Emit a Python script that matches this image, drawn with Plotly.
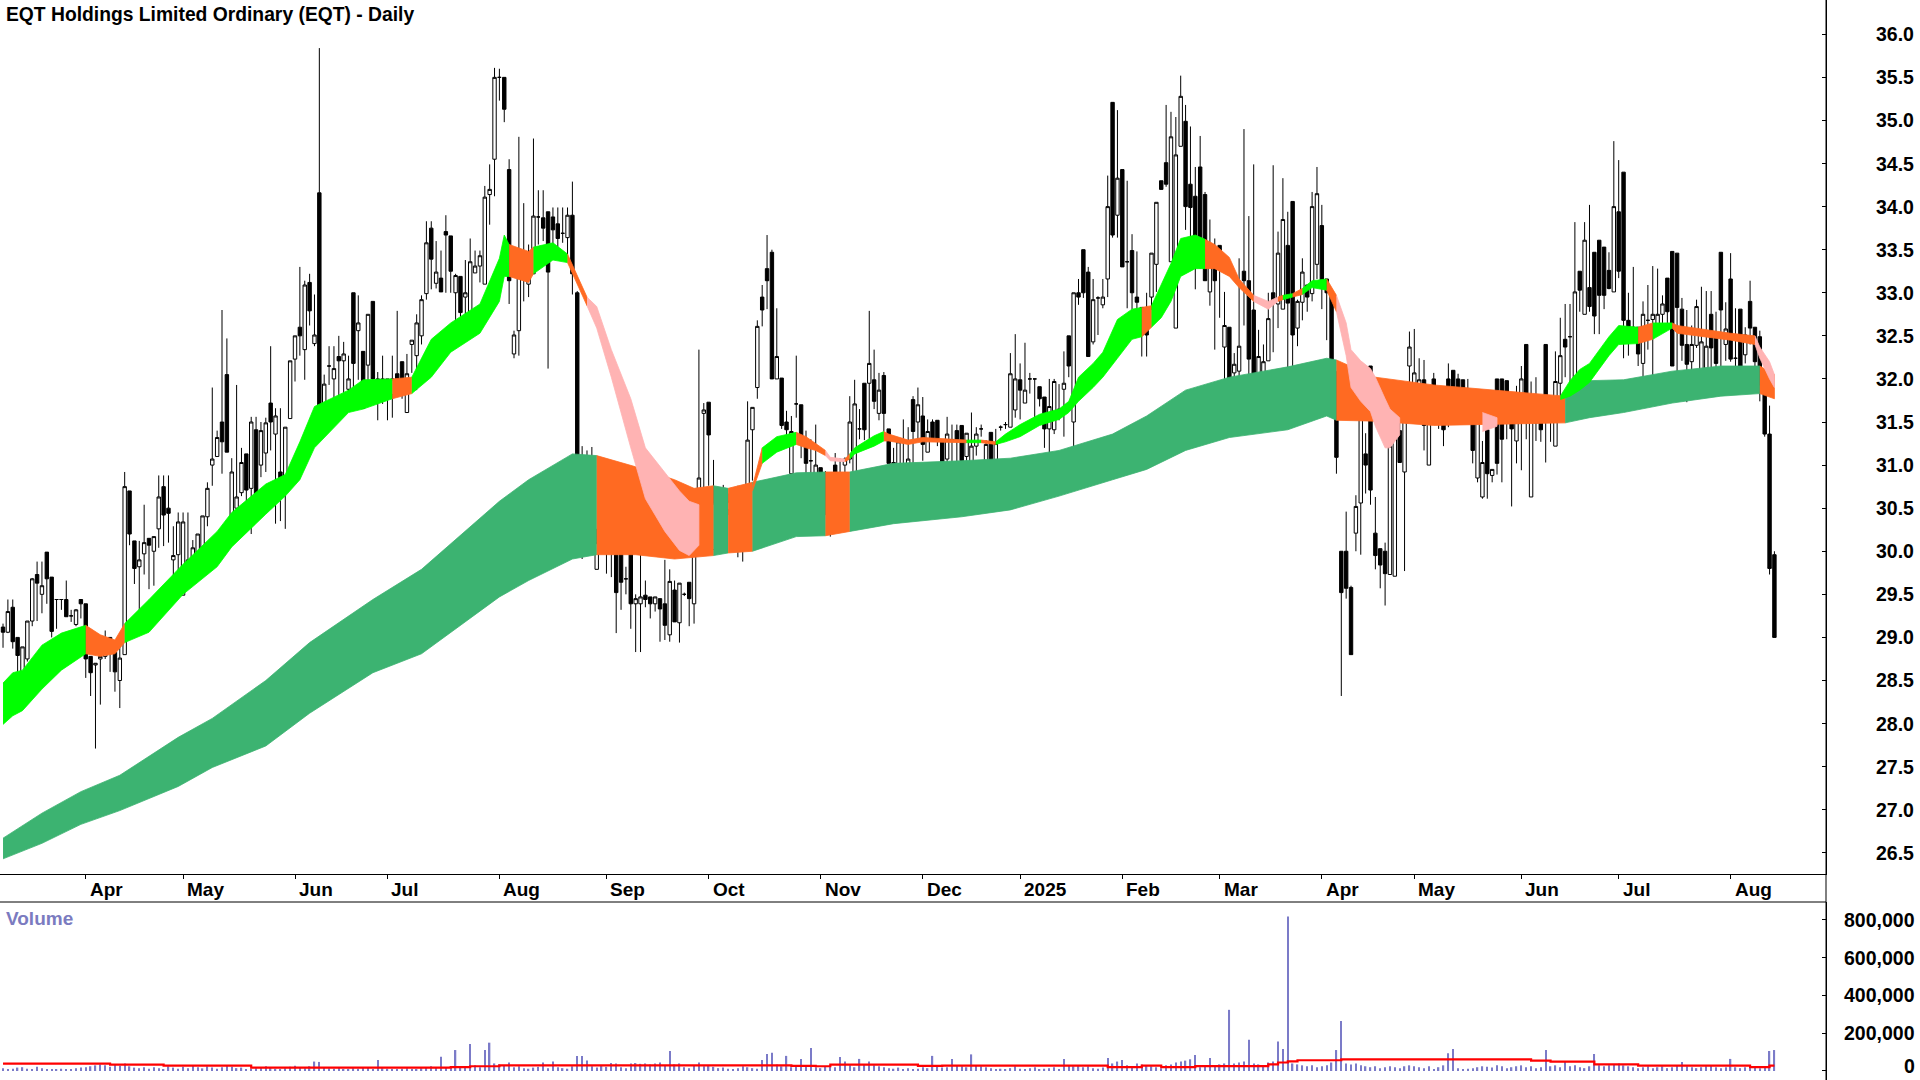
import plotly.graph_objects as go
import pandas as pd

# ---------------- data ----------------
title = "EQT Holdings Limited Ordinary (EQT) - Daily"
start_date = "2024-03-06"
holidays = ["2024-03-29", "2024-04-01", "2024-04-25", "2024-06-10", "2024-12-25", "2024-12-26",
            "2025-01-01", "2025-01-27", "2025-04-18", "2025-04-21", "2025-04-25", "2025-06-09"]

open_ = [29.12, 29.06, 29.35, 29.00, 28.60, 28.75, 29.19, 29.73, 29.50, 29.99,
         29.70, 29.44, 29.44, 29.44, 29.25, 29.15, 29.44, 29.39, 28.78, 28.68,
         28.75, 28.78, 29.00, 28.83, 28.50, 28.80, 30.70, 30.12, 29.82, 29.97,
         30.15, 30.00, 30.26, 30.75, 30.50, 29.90, 29.96, 29.49, 29.68, 29.85,
         29.99, 29.80, 30.40, 31.00, 31.10, 31.50, 32.05, 30.35, 30.50, 30.68,
         31.13, 30.73, 31.41, 31.00, 31.14, 31.72, 31.36, 30.92, 30.71, 31.54,
         32.23, 32.60, 32.34, 33.12, 32.41, 34.16, 31.55, 32.15, 32.00, 32.26,
         32.21, 31.88, 33.00, 32.56, 32.32, 32.16, 32.90, 32.00, 31.83, 32.00,
         31.82, 32.06, 32.20, 31.61, 32.40, 32.27, 32.50, 32.99, 33.75, 33.11,
         33.17, 33.71, 33.66, 33.00, 33.19, 32.95, 32.75, 33.23, 33.31, 33.10,
         34.14, 34.55, 35.50, 35.50, 34.43, 32.29, 32.56, 33.44, 33.10, 33.22,
         33.88, 33.87, 33.94, 33.88, 33.80, 33.69, 33.64, 33.90, 33.00, 30.15,
         31.11, 30.85, 29.79, 30.12, 30.13, 29.98, 29.96, 30.00, 29.68, 30.12,
         29.39, 29.39, 29.49, 29.47, 29.39, 29.45, 29.39, 29.03, 29.55, 29.17,
         29.50, 29.64, 29.39, 30.58, 31.60, 31.73, 30.02, 30.55, 30.54, 30.48,
         30.21, 30.64, 30.53, 30.53, 31.41, 31.90, 32.95, 33.28, 33.47, 32.00,
         32.01, 31.50, 30.90, 31.71, 31.70, 31.22, 31.05, 30.69, 30.97, 30.75,
         30.30, 31.00, 30.78, 31.00, 31.07, 30.88, 31.42, 31.95, 31.95, 31.99,
         31.60, 32.04, 31.42, 31.03, 30.63, 31.00, 30.97, 31.76, 31.50, 31.57,
         31.15, 31.50, 31.52, 31.29, 31.07, 31.29, 31.40, 31.46, 31.10, 31.00,
         31.22, 31.42, 30.63, 31.38, 30.70, 31.44, 31.47, 31.44, 31.64, 31.99,
         31.72, 32.00, 32.00, 31.91, 31.79, 31.42, 31.41, 31.65, 31.88, 32.50,
         31.50, 33.00, 33.50, 33.24, 32.43, 32.94, 32.86, 33.16, 35.21, 33.90,
         34.43, 33.36, 33.49, 32.95, 32.83, 32.60, 32.95, 33.33, 34.30, 34.51,
         33.36, 32.59, 34.70, 34.99, 34.26, 34.12, 34.46, 34.14, 33.01, 33.31,
         33.55, 32.37, 32.60, 32.07, 32.09, 33.25, 33.14, 32.80, 31.41, 32.01,
         32.21, 33.00, 32.87, 32.81, 33.55, 34.06, 32.59, 32.89, 33.09, 32.99,
         33.33, 33.78, 33.16, 33.01, 31.57, 30.00, 30.00, 29.58, 30.21, 30.56,
         31.13, 32.15, 30.21, 30.03, 30.00, 29.73, 29.71, 31.40, 30.92, 32.15,
         31.94, 31.51, 31.99, 31.00, 32.00, 31.68, 31.80, 32.00, 32.10, 32.00,
         31.99, 31.71, 31.69, 30.85, 30.63, 31.41, 30.88, 32.00, 32.00, 31.98,
         31.50, 31.28, 31.50, 32.40, 30.63, 31.72, 31.50, 32.40, 31.50, 31.22,
         31.95, 32.46, 32.49, 31.87, 33.25, 32.75, 33.06, 33.47, 33.61, 33.53,
         33.26, 33.01, 33.94, 34.40, 32.68, 32.44, 32.60, 32.18, 32.68, 32.69,
         32.60, 32.75, 33.17, 33.48, 33.46, 32.81, 32.40, 32.20, 32.39, 32.07,
         32.07, 32.75, 32.48, 33.47, 32.40, 33.16, 32.24, 32.81, 32.28, 32.90,
         32.60, 32.49, 31.85, 31.36, 29.96]
high = [29.16, 29.44, 29.44, 29.00, 28.89, 29.19, 29.69, 29.88, 29.88, 29.99,
        29.70, 29.44, 29.44, 29.66, 29.32, 29.33, 29.44, 29.39, 28.78, 28.70,
        28.78, 29.08, 29.00, 28.94, 29.03, 30.92, 30.70, 30.12, 30.12, 30.54,
        30.15, 30.17, 30.88, 30.88, 30.88, 30.29, 30.45, 30.45, 30.45, 30.13,
        30.20, 30.41, 30.80, 31.90, 31.40, 32.80, 32.47, 31.08, 31.93, 31.20,
        31.13, 31.56, 31.56, 31.50, 31.55, 32.38, 31.66, 31.66, 31.44, 32.21,
        32.50, 33.30, 33.14, 33.22, 32.98, 35.84, 32.05, 32.38, 32.38, 32.50,
        32.43, 32.27, 33.00, 32.97, 32.32, 32.75, 32.90, 32.08, 32.27, 32.00,
        32.27, 32.79, 32.20, 32.29, 32.45, 32.75, 32.97, 33.83, 33.83, 33.60,
        33.49, 33.90, 33.66, 33.22, 33.19, 33.38, 33.63, 33.49, 33.49, 34.24,
        34.49, 35.61, 35.60, 35.50, 34.55, 32.56, 34.81, 34.04, 33.56, 34.79,
        34.19, 34.19, 33.94, 33.99, 33.99, 33.99, 33.99, 34.29, 33.02, 31.22,
        31.17, 31.21, 30.26, 30.72, 30.31, 30.17, 29.96, 30.00, 29.82, 30.12,
        29.50, 30.20, 29.66, 29.47, 29.47, 29.45, 29.90, 29.79, 29.66, 29.63,
        29.52, 29.64, 30.32, 32.34, 31.72, 31.73, 31.06, 30.73, 30.77, 30.67,
        30.36, 30.76, 30.67, 31.74, 31.67, 32.68, 33.09, 33.67, 33.50, 32.82,
        32.01, 31.63, 31.57, 32.27, 31.70, 31.40, 31.30, 31.47, 30.97, 30.93,
        30.70, 31.14, 31.08, 31.09, 31.80, 31.99, 31.65, 31.95, 32.79, 32.34,
        32.07, 32.08, 31.42, 31.20, 31.27, 31.53, 31.44, 31.80, 31.90, 31.79,
        31.53, 31.53, 31.52, 31.29, 31.56, 31.47, 31.47, 31.46, 31.37, 31.61,
        31.44, 31.47, 31.29, 31.38, 31.42, 31.46, 31.50, 32.30, 32.52, 32.18,
        32.42, 32.07, 32.00, 31.91, 31.79, 32.00, 32.00, 31.94, 32.32, 32.50,
        33.00, 33.16, 33.50, 33.30, 33.16, 32.96, 33.16, 34.36, 35.21, 35.12,
        34.43, 34.30, 33.68, 33.48, 32.83, 33.00, 33.46, 34.05, 34.30, 35.18,
        35.10, 35.04, 35.52, 35.18, 34.93, 34.46, 34.82, 34.17, 33.85, 33.63,
        33.55, 33.01, 32.60, 32.30, 33.40, 34.90, 33.89, 34.49, 32.57, 32.40,
        33.00, 34.48, 33.71, 34.33, 33.94, 34.06, 32.92, 33.40, 33.09, 34.17,
        34.46, 34.02, 33.16, 33.01, 32.09, 30.00, 30.46, 29.60, 30.65, 31.57,
        31.37, 32.15, 30.63, 30.03, 30.10, 31.22, 31.42, 31.59, 31.77, 32.55,
        32.58, 32.24, 32.22, 31.90, 32.07, 31.91, 31.85, 32.18, 32.10, 32.06,
        31.99, 32.00, 31.69, 31.69, 31.28, 31.41, 30.95, 32.00, 32.00, 31.98,
        31.80, 31.92, 32.15, 32.40, 31.97, 32.02, 31.77, 32.40, 31.77, 32.32,
        32.71, 32.87, 32.87, 33.82, 33.25, 33.82, 34.02, 33.47, 33.61, 33.53,
        33.47, 34.76, 34.54, 34.40, 33.00, 33.30, 32.60, 32.90, 33.09, 33.31,
        33.28, 32.97, 33.17, 33.48, 33.46, 32.94, 32.80, 32.62, 32.92, 33.07,
        33.02, 33.02, 32.78, 33.47, 32.89, 33.46, 32.82, 32.81, 32.60, 33.14,
        32.60, 32.56, 31.85, 31.69, 30.00]
low = [28.88, 29.05, 28.87, 28.60, 28.48, 28.72, 29.13, 29.19, 29.28, 29.39,
       29.00, 29.10, 29.32, 29.24, 29.18, 29.13, 29.22, 28.53, 28.32, 27.71,
       28.22, 28.75, 28.60, 28.37, 28.18, 28.80, 30.07, 29.62, 29.03, 29.73,
       29.56, 29.60, 30.04, 30.06, 30.10, 29.39, 29.68, 29.49, 29.57, 29.62,
       29.77, 29.77, 30.29, 30.76, 31.10, 30.90, 31.15, 30.35, 30.35, 30.64,
       30.35, 30.20, 30.47, 30.86, 30.92, 31.17, 30.32, 30.35, 30.26, 31.54,
       31.97, 32.27, 31.99, 32.62, 32.38, 31.61, 31.55, 31.93, 31.64, 31.68,
       31.65, 31.77, 31.87, 31.99, 31.66, 31.90, 31.74, 31.52, 31.71, 31.52,
       31.55, 31.85, 31.77, 31.61, 32.07, 31.87, 32.40, 32.92, 33.04, 33.05,
       33.04, 33.00, 33.00, 32.56, 32.59, 32.67, 32.75, 33.23, 33.12, 33.10,
       33.79, 34.12, 35.23, 34.98, 32.87, 32.24, 32.27, 32.90, 32.95, 33.22,
       33.56, 33.60, 32.12, 33.56, 33.44, 33.58, 33.44, 32.98, 30.13, 29.91,
       30.58, 30.02, 29.79, 30.12, 29.74, 29.70, 29.05, 29.32, 29.50, 29.10,
       28.83, 28.83, 29.35, 29.22, 29.30, 28.95, 28.97, 28.95, 29.18, 28.94,
       29.48, 29.13, 29.16, 30.51, 30.73, 30.76, 30.02, 30.31, 30.15, 30.42,
       30.03, 29.93, 29.88, 30.39, 30.82, 31.77, 32.61, 32.81, 32.00, 32.00,
       31.42, 31.22, 30.90, 31.55, 31.08, 30.83, 30.90, 30.58, 30.50, 30.42,
       30.17, 30.42, 30.50, 30.62, 31.02, 30.88, 31.30, 31.29, 31.29, 31.65,
       31.52, 31.39, 31.02, 30.78, 30.63, 30.97, 30.97, 30.98, 31.30, 31.05,
       31.15, 31.29, 31.22, 30.97, 31.02, 31.02, 31.02, 31.05, 31.05, 31.00,
       31.11, 31.33, 30.63, 30.66, 30.70, 31.40, 31.42, 31.44, 31.55, 31.53,
       31.72, 31.83, 31.55, 31.68, 31.20, 31.14, 31.36, 31.52, 31.33, 32.02,
       30.94, 32.86, 32.94, 32.26, 32.40, 32.51, 32.82, 32.95, 33.64, 33.64,
       33.30, 32.82, 32.81, 32.80, 32.26, 32.26, 32.80, 33.01, 34.20, 34.23,
       33.36, 32.59, 34.70, 33.73, 33.55, 33.04, 33.28, 33.14, 32.85, 32.34,
       32.71, 31.87, 31.36, 31.68, 31.40, 32.62, 31.83, 31.71, 31.41, 31.46,
       32.21, 32.31, 32.59, 32.81, 31.80, 31.72, 32.38, 32.68, 32.78, 32.90,
       33.16, 32.81, 32.45, 31.86, 30.90, 28.32, 29.45, 28.80, 30.00, 29.96,
       30.67, 30.54, 29.79, 29.57, 29.37, 29.73, 29.71, 31.03, 29.77, 31.60,
       31.52, 31.51, 31.17, 31.00, 31.50, 31.42, 31.22, 31.44, 31.58, 31.59,
       31.58, 31.55, 31.02, 30.80, 30.61, 30.61, 30.80, 30.89, 30.80, 31.30,
       30.52, 31.02, 30.94, 31.30, 30.63, 31.28, 31.27, 31.03, 31.27, 31.22,
       31.77, 32.02, 31.93, 31.87, 32.78, 32.75, 32.78, 32.52, 32.52, 32.81,
       33.04, 33.01, 33.17, 32.24, 32.27, 32.44, 32.15, 31.97, 32.34, 31.93,
       32.60, 32.65, 32.62, 32.15, 32.02, 32.21, 31.73, 32.02, 32.36, 32.02,
       31.88, 32.04, 31.96, 32.02, 32.21, 32.20, 32.05, 32.07, 32.18, 32.40,
       32.02, 31.74, 31.33, 29.73, 29.00]
close = [29.06, 29.30, 28.95, 28.79, 28.89, 29.19, 29.68, 29.63, 29.60, 29.68,
         29.07, 29.44, 29.44, 29.24, 29.25, 29.32, 29.39, 28.75, 28.59, 28.70,
         28.78, 28.90, 28.84, 28.60, 28.76, 30.75, 30.20, 29.80, 29.90, 30.10,
         30.07, 30.17, 30.63, 30.42, 30.44, 29.95, 30.34, 30.34, 29.90, 30.04,
         30.20, 30.41, 30.73, 31.07, 31.32, 31.27, 31.15, 30.92, 30.63, 31.03,
         30.71, 31.50, 30.47, 31.40, 31.49, 31.50, 31.57, 30.73, 31.44, 32.21,
         32.50, 32.50, 33.09, 32.79, 32.51, 31.61, 31.94, 32.15, 32.12, 32.21,
         32.29, 32.00, 32.18, 32.65, 31.66, 32.75, 32.00, 31.83, 32.00, 31.80,
         32.00, 32.00, 32.00, 32.06, 32.45, 32.65, 32.92, 33.58, 33.39, 33.24,
         33.01, 33.67, 33.25, 33.20, 32.77, 33.00, 33.36, 33.31, 33.43, 34.11,
         34.20, 35.50, 35.50, 35.13, 33.14, 32.51, 33.28, 33.19, 33.47, 33.89,
         33.88, 33.75, 33.24, 33.73, 33.63, 33.69, 33.90, 33.22, 30.60, 31.00,
         31.00, 30.31, 30.10, 30.61, 29.98, 30.04, 29.52, 29.64, 29.68, 29.39,
         29.45, 29.47, 29.44, 29.39, 29.47, 29.33, 29.14, 29.65, 29.18, 29.63,
         29.50, 29.45, 30.13, 30.85, 31.64, 31.35, 30.56, 30.55, 30.15, 30.58,
         30.03, 30.53, 30.26, 31.29, 31.67, 32.61, 32.80, 33.14, 32.00, 32.26,
         31.46, 31.41, 31.39, 31.71, 31.29, 31.02, 31.05, 31.00, 30.69, 30.59,
         30.56, 30.66, 30.86, 31.07, 31.50, 31.71, 31.42, 31.41, 32.18, 31.74,
         31.87, 31.60, 31.02, 30.78, 31.27, 30.97, 31.07, 31.39, 31.70, 31.24,
         31.39, 31.29, 31.29, 30.97, 31.36, 31.29, 31.29, 31.05, 31.37, 31.22,
         31.36, 31.42, 31.24, 30.66, 31.25, 31.44, 31.47, 32.06, 32.00, 31.87,
         31.87, 32.00, 32.00, 31.77, 31.42, 31.68, 31.97, 31.62, 31.95, 32.15,
         33.00, 32.95, 33.00, 32.26, 32.92, 32.94, 32.95, 34.00, 33.67, 34.33,
         33.30, 33.36, 33.00, 32.89, 32.51, 32.51, 33.46, 34.05, 34.20, 34.26,
         34.81, 34.60, 35.28, 34.00, 33.99, 33.50, 33.49, 33.14, 33.34, 33.14,
         33.29, 32.62, 32.00, 32.17, 32.38, 33.14, 32.23, 31.83, 32.26, 32.20,
         32.70, 32.90, 33.46, 33.85, 32.88, 32.51, 32.90, 33.24, 32.95, 34.00,
         34.15, 33.09, 33.00, 31.86, 31.09, 29.52, 29.57, 28.80, 30.52, 31.57,
         31.00, 30.71, 29.95, 29.84, 29.74, 31.22, 31.42, 31.03, 31.58, 32.37,
         32.07, 31.99, 31.46, 31.90, 31.68, 31.58, 31.41, 31.71, 31.80, 31.69,
         31.71, 31.75, 31.17, 31.60, 31.03, 30.90, 30.95, 31.02, 31.30, 31.71,
         31.42, 31.58, 32.00, 31.58, 31.70, 31.49, 31.41, 31.50, 31.50, 31.97,
         32.27, 32.37, 32.49, 33.01, 33.03, 33.61, 32.84, 32.73, 32.97, 32.97,
         33.05, 34.00, 33.25, 32.68, 32.44, 32.60, 32.29, 32.75, 32.68, 32.75,
         32.75, 32.87, 32.78, 32.15, 32.83, 32.39, 32.17, 32.40, 32.84, 32.43,
         32.38, 32.36, 32.18, 32.80, 32.58, 32.23, 32.24, 32.15, 32.51, 32.59,
         32.20, 31.93, 31.36, 29.80, 29.00]
volume_k = [15, 10, 12, 18, 20, 12, 8, 22, 15, 10,
            8, 10, 12, 6, 8, 15, 18, 20, 25, 30,
            35, 30, 22, 35, 28, 40, 25, 18, 15, 20,
            12, 20, 15, 10, 25, 18, 12, 22, 15, 28,
            20, 14, 25, 18, 12, 20, 30, 22, 15, 18,
            10, 12, 15, 20, 25, 18, 12, 8, 15, 22,
            28, 20, 15, 25, 50, 48, 20, 15, 12, 18,
            10, 8, 15, 12, 20, 18, 10, 58, 15, 12,
            8, 10, 12, 15, 10, 8, 15, 20, 25, 18,
            76, 20, 15, 111, 25, 18, 143, 30, 20, 111,
            150, 40, 35, 30, 45, 20, 25, 15, 12, 18,
            22, 45, 15, 50, 20, 15, 12, 25, 80, 80,
            55, 25, 18, 30, 22, 42, 40, 20, 15, 40,
            42, 38, 40, 35, 40, 45, 30, 106, 35, 40,
            20, 15, 30, 45, 25, 30, 22, 15, 18, 12,
            10, 15, 25, 20, 15, 12, 58, 90, 97, 35,
            25, 80, 20, 30, 64, 25, 122, 20, 15, 25,
            30, 20, 74, 50, 30, 20, 64, 35, 50, 30,
            25, 20, 15, 12, 18, 10, 15, 8, 12, 20,
            15, 80, 25, 18, 20, 64, 30, 25, 20, 88,
            30, 25, 20, 15, 10, 12, 8, 15, 25, 12,
            10, 15, 20, 8, 12, 15, 20, 10, 64, 30,
            25, 30, 20, 25, 15, 12, 18, 69, 40, 50,
            58, 30, 25, 40, 35, 30, 25, 20, 15, 30,
            35, 45, 50, 55, 62, 85, 20, 25, 69, 30,
            35, 40, 324, 40, 45, 50, 165, 40, 35, 30,
            45, 50, 156, 117, 818, 40, 35, 30, 25, 30,
            20, 25, 30, 45, 111, 265, 40, 35, 40, 30,
            25, 20, 25, 15, 20, 25, 20, 15, 25, 30,
            25, 20, 15, 25, 10, 20, 30, 94, 117, 15,
            10, 12, 15, 20, 25, 22, 18, 30, 25, 15,
            20, 25, 30, 20, 25, 15, 20, 111, 25, 30,
            20, 53, 25, 30, 20, 15, 25, 90, 30, 25,
            30, 35, 40, 30, 25, 20, 15, 20, 25, 15,
            20, 25, 15, 20, 30, 48, 25, 20, 15, 20,
            25, 30, 20, 15, 20, 64, 20, 15, 20, 25,
            20, 15, 20, 106, 111]

# volume moving-average line, read at its step points (day index, thousands)
vol_ma_idx = [0, 22, 33, 51, 92, 96, 102, 162, 167, 170, 188, 193, 227, 234, 238, 245,
              260, 262, 264, 266, 275, 314, 318, 327, 336, 359, 363, 364]
vol_ma_k = [39, 34, 28, 18, 20, 25, 30, 27, 25, 34, 27, 28, 21, 28, 21, 26,
            35, 45, 51, 57, 62, 55, 50, 35, 28, 20, 28, 28]

# long-term MA ribbon (day index, upper, lower, colour code of the segment that starts there)
long_idx = [0, 8, 16, 24, 36, 43, 54, 63, 76, 86,
            102, 108, 117, 122, 130, 138, 142, 146, 149, 154,
            163, 169, 174, 183, 197, 207, 217, 228, 235, 243,
            252, 264, 272, 274, 282, 294, 306, 321, 326, 333,
            343, 353, 361, 364]
long_top = [26.67, 26.96, 27.21, 27.40, 27.84, 28.06, 28.50, 28.94, 29.44, 29.79,
            30.58, 30.83, 31.13, 31.11, 30.98, 30.83, 30.73, 30.76, 30.73, 30.80,
            30.91, 30.92, 30.92, 31.02, 31.05, 31.08, 31.17, 31.36, 31.57, 31.87,
            32.02, 32.14, 32.24, 32.22, 32.02, 31.93, 31.87, 31.80, 31.98, 31.99,
            32.09, 32.15, 32.15, 32.05]
long_bot = [26.43, 26.61, 26.83, 26.99, 27.27, 27.49, 27.74, 28.12, 28.59, 28.81,
            29.47, 29.66, 29.91, 29.96, 29.96, 29.91, 29.93, 29.95, 29.98, 30.00,
            30.17, 30.18, 30.23, 30.32, 30.40, 30.48, 30.64, 30.83, 30.95, 31.17,
            31.32, 31.41, 31.57, 31.52, 31.51, 31.46, 31.47, 31.49, 31.55, 31.61,
            31.72, 31.80, 31.83, 31.77]
long_col = ['L', 'L', 'L', 'L', 'L', 'L', 'L', 'L', 'L', 'L',
            'L', 'L', 'L', 'O', 'O', 'O', 'O', 'L', 'O', 'L',
            'L', 'O', 'L', 'L', 'L', 'L', 'L', 'L', 'L', 'L',
            'L', 'L', 'L', 'O', 'O', 'O', 'O', 'L', 'L', 'L',
            'L', 'L', 'O', '']

# short-term MA ribbon
short_idx = [0, 2, 4, 8, 12, 17, 20, 23, 25, 30,
             37, 44, 47, 54, 58, 61, 64, 71, 74, 80,
             84, 88, 92, 98, 102, 103, 104, 108, 109, 113,
             116, 118, 120, 122, 125, 129, 132, 136, 139, 141,
             143, 154, 156, 159, 163, 165, 167, 169, 170, 173,
             174, 175, 179, 181, 182, 186, 189, 198, 201, 204,
             206, 209, 213, 217, 219, 221, 224, 226, 229, 232,
             234, 236, 238, 240, 242, 245, 247, 249, 252, 254,
             257, 260, 262, 263, 265, 267, 269, 272, 274, 276,
             277, 279, 281, 282, 284, 285, 287, 304, 307, 320,
             322, 324, 326, 330, 332, 336, 339, 343, 344, 349,
             355, 360, 361, 363, 364]
short_top = [28.47, 28.59, 28.62, 28.91, 29.05, 29.14, 29.03, 28.97, 29.16, 29.44,
             29.85, 30.23, 30.45, 30.78, 30.89, 31.27, 31.68, 31.87, 31.99, 32.00,
             32.02, 32.46, 32.65, 32.87, 33.40, 33.67, 33.56, 33.48, 33.53, 33.58,
             33.45, 33.20, 32.95, 32.84, 32.34, 31.77, 31.20, 30.92, 30.70, 30.58,
             30.54, 30.75, 31.20, 31.33, 31.38, 31.33, 31.25, 31.17, 31.09, 31.07,
             31.13, 31.20, 31.34, 31.39, 31.36, 31.29, 31.32, 31.29, 31.29, 31.27,
             31.36, 31.47, 31.59, 31.65, 31.74, 32.02, 32.18, 32.31, 32.69, 32.81,
             32.83, 32.85, 33.09, 33.34, 33.63, 33.67, 33.62, 33.56, 33.41, 33.16,
             32.97, 32.90, 32.95, 32.97, 32.99, 33.05, 33.14, 33.16, 32.97, 32.65,
             32.34, 32.21, 32.12, 32.02, 31.77, 31.65, 31.55, 31.61, 31.55, 31.80,
             31.98, 32.11, 32.18, 32.49, 32.62, 32.60, 32.65, 32.65, 32.62, 32.58,
             32.53, 32.50, 32.37, 32.20, 32.05]
short_bot = [27.99, 28.09, 28.15, 28.40, 28.62, 28.81, 28.78, 28.81, 28.94, 29.06,
             29.50, 29.82, 30.05, 30.43, 30.64, 30.83, 31.20, 31.61, 31.65, 31.77,
             31.83, 32.02, 32.31, 32.53, 32.90, 33.19, 33.19, 33.12, 33.22, 33.38,
             33.35, 33.10, 32.85, 32.59, 32.02, 31.20, 30.61, 30.23, 30.01, 29.95,
             30.07, 30.70, 31.02, 31.15, 31.24, 31.20, 31.17, 31.11, 31.05, 31.04,
             31.07, 31.13, 31.22, 31.28, 31.28, 31.24, 31.27, 31.26, 31.26, 31.24,
             31.27, 31.33, 31.46, 31.53, 31.61, 31.74, 31.90, 32.02, 32.24, 32.46,
             32.49, 32.60, 32.71, 32.90, 33.19, 33.28, 33.28, 33.28, 33.19, 33.06,
             32.90, 32.81, 32.90, 32.92, 32.95, 32.98, 33.06, 33.03, 32.78, 32.27,
             31.90, 31.74, 31.62, 31.45, 31.20, 31.20, 31.35, 31.39, 31.45, 31.76,
             31.80, 31.87, 31.96, 32.27, 32.40, 32.41, 32.46, 32.59, 32.53, 32.49,
             32.45, 32.40, 32.24, 32.00, 31.90]
short_col = ['G', 'G', 'G', 'G', 'G', 'O', 'O', 'O', 'G', 'G',
             'G', 'G', 'G', 'G', 'G', 'G', 'G', 'G', 'G', 'O',
             'G', 'G', 'G', 'G', 'G', 'G', 'O', 'O', 'G', 'G',
             'O', 'O', 'P', 'P', 'P', 'P', 'P', 'P', 'P', 'P',
             '', 'O', 'G', 'G', 'O', 'O', 'O', 'P', 'P', 'O',
             'G', 'G', 'G', 'O', 'O', 'O', 'O', 'G', 'O', 'G',
             'G', 'G', 'G', 'G', 'G', 'G', 'G', 'G', 'G', 'G',
             'O', 'G', 'G', 'G', 'G', 'G', 'O', 'O', 'O', 'O',
             'P', 'P', 'O', 'G', 'O', 'G', 'G', 'O', 'P', 'P',
             'P', 'P', 'P', 'P', 'P', 'P', '', 'P', '', 'G',
             'G', 'G', 'G', 'G', 'G', 'O', 'G', 'O', 'O', 'O',
             'O', 'P', 'P', 'P', '']

price_ticks = [26.5, 27.0, 27.5, 28.0, 28.5, 29.0, 29.5, 30.0, 30.5, 31.0,
               31.5, 32.0, 32.5, 33.0, 33.5, 34.0, 34.5, 35.0, 35.5, 36.0]
volume_ticks = [0, 200000, 400000, 600000, 800000]

# ---------------- styling ----------------
COLORS = {"G": "#00FF00", "L": "#3CB371", "O": "#FF6A22", "P": "#FFB3B3"}
FONT = "Liberation Sans, Arial, sans-serif"
W, H = 1920, 1080
PLOT_RIGHT = 1826 / W
PRICE_BOTTOM = (H - 874) / H
VOL_TOP = (H - 902) / H

n = len(close)
x = list(range(n))
days = pd.bdate_range(start_date, periods=n + 40, freq="C", holidays=holidays)[:n]
tick_idx, tick_txt = [], []
for i in range(1, n):
    if days[i].month != days[i - 1].month:
        tick_idx.append(i)
        tick_txt.append(str(days[i].year) if days[i].month == 1 else days[i].strftime("%b"))

fig = go.Figure()


def add_ribbon(idx, top, bot, col):
    k, m = 0, len(idx)
    while k < m - 1:
        c = col[k]
        j = k
        while j + 1 < m - 1 and col[j + 1] == c:
            j += 1
        if c:
            xs = idx[k:j + 2] + idx[k:j + 2][::-1]
            ys = top[k:j + 2] + bot[k:j + 2][::-1]
            fig.add_trace(go.Scatter(x=xs, y=ys, fill="toself", fillcolor=COLORS[c], mode="lines",
                                     line=dict(width=0.8, color=COLORS[c]), hoverinfo="skip",
                                     showlegend=False, xaxis="x", yaxis="y"))
        k = j + 1


add_ribbon(long_idx, long_top, long_bot, long_col)
add_ribbon(short_idx, short_top, short_bot, short_col)

fig.add_trace(go.Candlestick(
    x=x, open=open_, high=high, low=low, close=close,
    increasing=dict(fillcolor="white", line=dict(color="black", width=1)),
    decreasing=dict(fillcolor="black", line=dict(color="black", width=1)),
    whiskerwidth=0, hoverinfo="skip", showlegend=False, xaxis="x", yaxis="y"))

volume = [v * 1000 for v in volume_k]
fig.add_trace(go.Bar(x=x, y=volume, width=0.28, marker=dict(color="#7B7BC8", line=dict(width=0)),
                     hoverinfo="skip", showlegend=False, xaxis="x2", yaxis="y2"))
fig.add_trace(go.Scatter(x=vol_ma_idx, y=[v * 1000 for v in vol_ma_k], mode="lines", line_shape="hv",
                         line=dict(color="#FF0000", width=2.2), hoverinfo="skip", showlegend=False,
                         xaxis="x2", yaxis="y2"))

xr = [-0.62, 374.6]
annotations = []
annotations.append(dict(text="<b>" + title + "</b>", x=4 / W, y=1 - 15 / H, xref="paper", yref="paper",
                        xanchor="left", yanchor="middle", showarrow=False,
                        font=dict(family=FONT, size=19.3, color="black")))
annotations.append(dict(text="<b>Volume</b>", x=4 / W, y=1 - 918 / H, xref="paper", yref="paper",
                        xanchor="left", yanchor="middle", showarrow=False,
                        font=dict(family=FONT, size=19, color="#7B7BC0")))
for i, t in zip(tick_idx, tick_txt):
    annotations.append(dict(text="<b>" + t + "</b>", x=i, y=1 - 889 / H, xref="x", yref="paper",
                            xanchor="left", yanchor="middle", xshift=2, showarrow=False,
                            font=dict(family=FONT, size=19, color="black")))
for v in price_ticks:
    annotations.append(dict(text="<b>%.1f</b>" % v, x=1916 / W, y=v, xref="paper", yref="y",
                            xanchor="right", yanchor="middle", showarrow=False,
                            font=dict(family=FONT, size=19.5, color="black")))
for v in volume_ticks:
    annotations.append(dict(text="<b>{:,}</b>".format(v), x=1916 / W, y=v, xref="paper", yref="y2",
                            xanchor="right", yanchor="middle", showarrow=False,
                            yshift=5 if v == 0 else 0, borderpad=0,
                            font=dict(family=FONT, size=19.5, color="black")))

fig.update_layout(
    width=W, height=H, margin=dict(l=0, r=0, t=0, b=0),
    paper_bgcolor="white", plot_bgcolor="white", showlegend=False,
    boxgap=0.3, boxgroupgap=0,
    xaxis=dict(domain=[0, PLOT_RIGHT], range=xr, anchor="y", showgrid=False, zeroline=False,
               tickmode="array", tickvals=tick_idx, showticklabels=False, ticks="outside",
               ticklen=4, tickcolor="black", showline=True, linecolor="black", linewidth=1,
               rangeslider=dict(visible=False), fixedrange=True),
    yaxis=dict(domain=[PRICE_BOTTOM, 1], range=[26.254, 36.398], side="right", anchor="x",
               showgrid=False, zeroline=False, tickmode="array", tickvals=price_ticks,
               showticklabels=False, ticks="inside", ticklen=4, tickcolor="black",
               showline=True, linecolor="black", linewidth=1, fixedrange=True),
    xaxis2=dict(domain=[0, PLOT_RIGHT], range=xr, anchor="y2", showgrid=False, zeroline=False,
                showticklabels=False, ticks="", showline=False, fixedrange=True),
    yaxis2=dict(domain=[0, VOL_TOP], range=[-47700, 895000], side="right", anchor="x2",
                showgrid=False, zeroline=False, tickmode="array", tickvals=volume_ticks,
                showticklabels=False, ticks="inside", ticklen=4, tickcolor="black",
                showline=True, linecolor="black", linewidth=1, fixedrange=True),
    annotations=annotations,
    shapes=[dict(type="line", xref="paper", yref="paper", x0=0, x1=PLOT_RIGHT, y0=VOL_TOP, y1=VOL_TOP,
                 line=dict(color="black", width=1)),
            dict(type="line", xref="paper", yref="paper", x0=PLOT_RIGHT, x1=PLOT_RIGHT, y0=0, y1=1,
                 line=dict(color="black", width=1))],
)

fig.write_html("out.html")
